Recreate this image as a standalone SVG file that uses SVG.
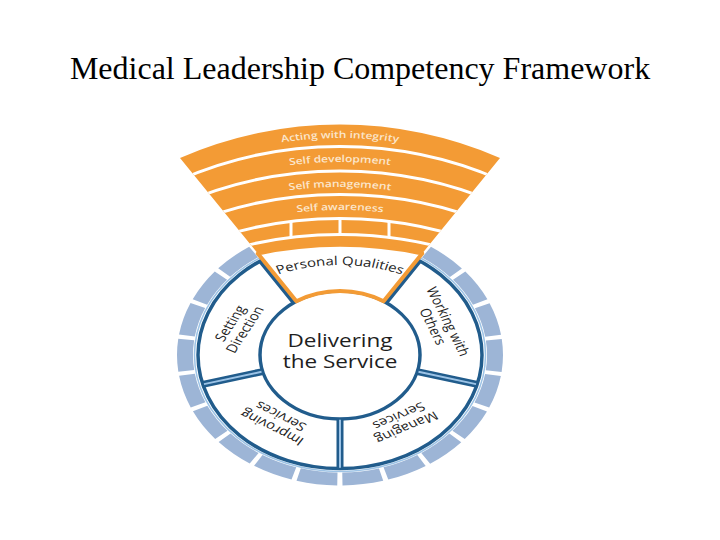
<svg xmlns="http://www.w3.org/2000/svg" width="720" height="540" viewBox="0 0 720 540">
<defs>
<style>
.t{font-family:"Open Sans","Liberation Sans",sans-serif;}
.seg{font-size:15px;fill:#1e1e1e;text-anchor:middle;}
.band{font-size:12px;font-weight:600;fill:#fbe6cc;text-anchor:middle;}
.dk{stroke:#215c8c;fill:none;vector-effect:non-scaling-stroke;}
.lt{stroke:#9cc3e6;fill:none;vector-effect:non-scaling-stroke;}
.wg{stroke:#ffffff;fill:none;stroke-width:3;vector-effect:non-scaling-stroke;}
.or{fill:#f39b35;}
</style>
<clipPath id="fanClip"><path d="M-160,-246.25 A400,500 0 0 1 160,-246.25 L82.2,-126.9 A400,500 0 0 0 -82.2,-126.9 Z"/></clipPath>
<path id="b1" d="M-200,-204.25 A400,500 0 0 1 200,-204.25"/>
<path id="b2" d="M-200,-174.25 A400,500 0 0 1 200,-174.25"/>
<path id="b3" d="M-200,-143 A400,500 0 0 1 200,-143"/>
<path id="b4" d="M-200,-114.25 A400,500 0 0 1 200,-114.25"/>
<path id="pqPath" d="M-120,-60.7 A165,165 0 0 1 120,-60.7"/>
</defs>
<rect width="720" height="540" fill="#ffffff"/>
<text id="title" x="360" y="79" font-family="'Liberation Serif',serif" font-size="32" text-anchor="middle" fill="#000">Medical Leadership Competency Framework</text>
<g transform="translate(340,355) scale(1,0.8)">
  <g id="outer-ring">
    <circle r="155" fill="none" stroke="#9db5d6" stroke-width="16" transform="rotate(-57)" stroke-dashoffset="-2.5" stroke-dasharray="39.18 5 39.18 5 39.18 5 39.18 5 39.18 5 39.18 5 39.18 5 39.18 5 39.18 5 39.18 5 39.18 5 39.18 5 39.18 5 39.18 5 39.18 5 39.18 5 39.18 5 39.18 183.65"/>
    <circle r="145.5" class="lt" stroke-width="1.5"/>
    <circle r="142" fill="#ffffff" stroke="#215c8c" stroke-width="3.5" vector-effect="non-scaling-stroke"/>
  </g>
  <g id="delivering-the-service">
    <circle r="80" class="dk" stroke-width="3.5"/>
    <text class="t" font-size="22.5" font-weight="500" text-anchor="middle" fill="#1e1e1e"><tspan x="0" y="-10">Delivering</tspan><tspan x="0" y="16">the Service</tspan></text>
  </g>
  <g id="connectors">
    <path class="dk" stroke-width="7" d="M77.3,20.7 L137.2,36.75 M0,80 L0,142 M-77.3,20.7 L-137.2,36.75"/>
    <path class="lt" stroke-width="2" d="M78.5,21 L136,36.4 M0,81 L0,141 M-78.5,21 L-136,36.4"/>
    <path class="dk" stroke-width="10" d="M-43.6,-67.1 L-77.3,-119.1 M43.6,-67.1 L77.3,-119.1"/>
  </g>
  <g id="personal-qualities-fan">
    <path class="or" d="M-160,-246.25 A400,500 0 0 1 160,-246.25 L82.2,-126.9 A400,500 0 0 0 -82.2,-126.9 Z"/>
    <g clip-path="url(#fanClip)">
      <path class="wg" d="M-200,-193.6 A400,500 0 0 1 200,-193.6 M-200,-163 A400,500 0 0 1 200,-163 M-200,-133.6 A400,500 0 0 1 200,-133.6 M-200,-103.6 A400,500 0 0 1 200,-103.6 M-200,-83.6 A400,500 0 0 1 200,-83.6"/>
      <path class="wg" d="M-49,-166.8 L-49,-146.8 M0,-170 L0,-150 M49,-166.8 L49,-146.8"/>
    </g>
    <text class="t band"><textPath href="#b1" startOffset="50%">Acting with integrity</textPath></text>
    <text class="t band"><textPath href="#b2" startOffset="50%">Self development</textPath></text>
    <text class="t band"><textPath href="#b3" startOffset="50%">Self management</textPath></text>
    <text class="t band"><textPath href="#b4" startOffset="50%">Self awareness</textPath></text>
  </g>
  <g id="personal-qualities">
    <path d="M-82.2,-126.9 A400,500 0 0 1 82.2,-126.9 L43.6,-67.1 A80,80 0 0 0 -43.6,-67.1 Z" fill="#ffffff" stroke="#f39b35" stroke-width="4" stroke-linejoin="round" vector-effect="non-scaling-stroke"/>
    <text class="t seg"><textPath href="#pqPath" startOffset="50%">Personal Qualities</textPath></text>
  </g>
  <g id="setting-direction" transform="translate(-103,-36) rotate(-62)">
    <text class="t seg"><tspan x="0" y="-2.5">Setting</tspan><tspan x="0" y="14">Direction</tspan></text>
  </g>
  <g id="working-with-others" transform="translate(101,-39) rotate(68)">
    <text class="t seg"><tspan x="0" y="-2.5">Working with</tspan><tspan x="0" y="14">Others</tspan></text>
  </g>
  <g id="managing-services" transform="translate(63,84) rotate(152)">
    <text class="t seg"><tspan x="0" y="-2.5">Managing</tspan><tspan x="0" y="14">Services</tspan></text>
  </g>
  <g id="improving-services" transform="translate(-64,84) rotate(212)">
    <text class="t seg"><tspan x="0" y="-2.5">Improving</tspan><tspan x="0" y="14">Services</tspan></text>
  </g>
</g>
</svg>
